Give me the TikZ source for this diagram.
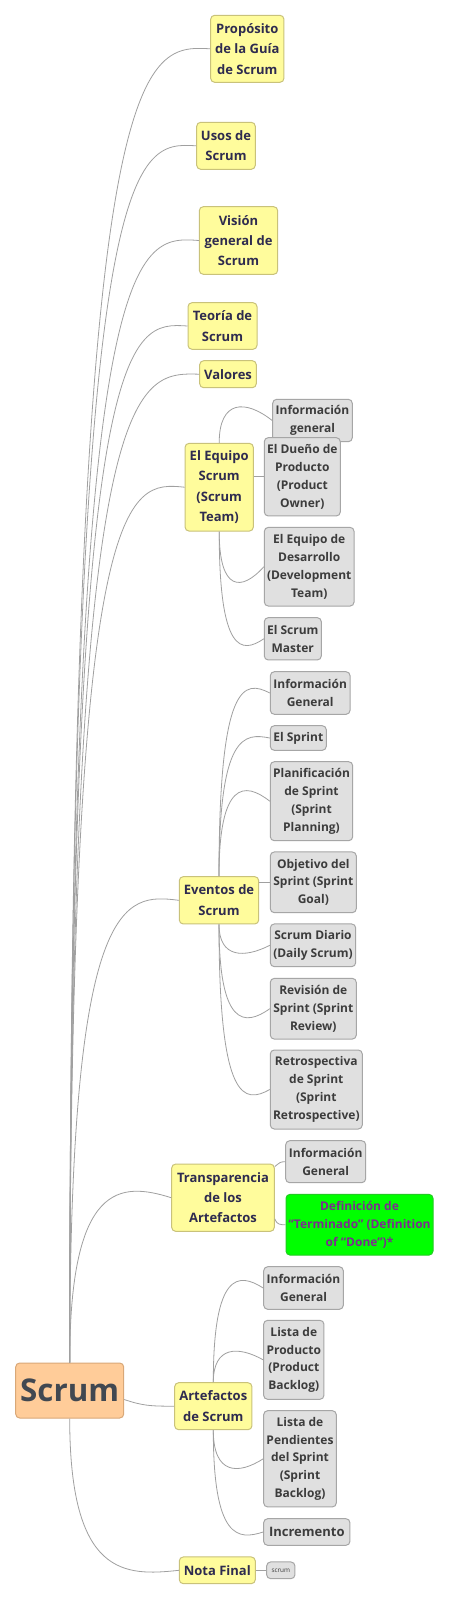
\documentclass[tikz,border=0pt]{standalone}
\usepackage{fontspec}
\setmainfont{Open Sans}
\usetikzlibrary{calc}
\definecolor{yfill}{HTML}{FFFC9C}
\definecolor{ydraw}{HTML}{C9C27A}
\definecolor{ytext}{HTML}{2E2B4F}
\definecolor{gfill}{HTML}{E0E0E0}
\definecolor{gdraw}{HTML}{A6A6A6}
\definecolor{gtext}{HTML}{3C3C3C}
\definecolor{rfill}{HTML}{FFCC99}
\definecolor{rdraw}{HTML}{D9A878}
\definecolor{rtext}{HTML}{414851}
\definecolor{linec}{HTML}{A0A0A0}
\definecolor{greenfill}{HTML}{00FF00}
\definecolor{greendraw}{HTML}{22CC22}
\definecolor{purp}{HTML}{7B2D8E}
\begin{document}
\begin{tikzpicture}[x=0.75pt,y=-0.75pt,
  every node/.style={inner sep=0pt, align=center, rounded corners=3pt, line width=0.75pt},
  sz/.style 2 args={minimum width={#1*0.75pt}, minimum height={#2*0.75pt}},
  topic/.style={draw=ydraw, fill=yfill, text=ytext, font=\fontsize{9.75pt}{15.3pt}\selectfont\bfseries},
  sub/.style={draw=gdraw, fill=gfill, text=gtext, font=\fontsize{9pt}{13.4pt}\selectfont\bfseries},
  donebox/.style={draw=greendraw, fill=greenfill, text=purp, font=\fontsize{9pt}{13.4pt}\selectfont\bfseries},
  rootbox/.style={draw=rdraw, fill=rfill, text=rtext, font=\fontsize{23.5pt}{28pt}\selectfont\bfseries},
  tagbox/.style={draw=gdraw, fill=gfill, text=gtext, font=\fontsize{4.8pt}{6pt}\selectfont},
  conn/.style={draw=linec, line width=0.6pt},
  cu/.style={to path={.. controls ($(\tikztostart |- \tikztotarget)+(0,-#1)$) and ($(\tikztostart |- \tikztotarget)!0.5!(\tikztotarget)+(0,-#1)$) .. (\tikztotarget)}},
  cd/.style={to path={.. controls ($(\tikztostart |- \tikztotarget)+(0,#1)$) and ($(\tikztostart |- \tikztotarget)!0.5!(\tikztotarget)+(0,#1)$) .. (\tikztotarget)}}
]
\fill[white] (0,0) rectangle (449,1600);
\useasboundingbox (0,0) rectangle (449,1600);

% root
\node[rootbox, sz={108}{55}] (root) at (69.7,1390.5) {Scrum};

% main topics
\node[topic, sz={73.3}{67}] (prop) at (247.3,48.8) {Propósito\\de la Guía\\de Scrum};
\node[topic, sz={58.6}{47}] (usos) at (226,145.8) {Usos de\\Scrum};
\node[topic, sz={78.4}{67.6}] (vision) at (238.5,240.5) {Visión\\general de\\Scrum};
\node[topic, sz={69}{46.6}] (teoria) at (222.5,326) {Teoría de\\Scrum};
\node[topic, sz={56.6}{27}] (valores) at (228,374.2) {Valores};
\node[topic, sz={68.3}{87.7}] (equipo) at (219.2,487.2) {El Equipo\\Scrum\\(Scrum\\Team)};
\node[topic, sz={79.4}{47.3}] (eventos) at (219,900.3) {Eventos de\\Scrum};
\node[topic, sz={102.6}{67.3}] (transp) at (223,1197.7) {Transparencia\\de los\\Artefactos};
\node[topic, sz={77.3}{47}] (artef) at (213.3,1406.2) {Artefactos\\de Scrum};
\node[topic, sz={76}{26.7}] (nota) at (217.3,1570.3) {Nota Final};

% equipo children
\node[sub, sz={79.6}{42.4}] (infog1) at (312.5,420.5) {Información\\general};
\node[sub, sz={76}{78.3}] (dueno) at (302.3,476.8) {El Dueño de\\Producto\\(Product\\Owner)};
\node[sub, sz={89.7}{78.7}] (desarr) at (309.2,566.7) {El Equipo de\\Desarrollo\\(Development\\Team)};
\node[sub, sz={57}{42.3}] (master) at (292.8,638.8) {El Scrum\\Master};

% eventos children
\node[sub, sz={79.7}{42.6}] (infog2) at (310.2,693) {Información\\General};
\node[sub, sz={56}{24.6}] (sprint) at (298.3,738) {El Sprint};
\node[sub, sz={82.4}{79}] (planif) at (311.5,801.2) {Planificación\\de Sprint\\(Sprint\\Planning)};
\node[sub, sz={86}{60.7}] (objet) at (313.3,882.3) {Objetivo del\\Sprint (Sprint\\Goal)};
\node[sub, sz={85.4}{42.7}] (diario) at (313,945.3) {Scrum Diario\\(Daily Scrum)};
\node[sub, sz={86}{60.7}] (revis) at (313.3,1008.7) {Revisión de\\Sprint (Sprint\\Review)};
\node[sub, sz={92}{79}] (retro) at (316.3,1089.5) {Retrospectiva\\de Sprint\\(Sprint\\Retrospective)};

% transparencia children
\node[sub, sz={80}{42}] (infog3) at (325.7,1161.7) {Información\\General};
\node[donebox, sz={147}{60.7}] (defin) at (359.5,1224.7) {Definición de\\“Terminado” (Definition\\of “Done”)*};

% artefactos children
\node[sub, sz={79.6}{42.6}] (infog4) at (303.5,1288) {Información\\General};
\node[sub, sz={60.3}{79}] (lprod) at (293.8,1359.8) {Lista de\\Producto\\(Product\\Backlog)};
\node[sub, sz={72.6}{96.3}] (lpend) at (300,1458.8) {Lista de\\Pendientes\\del Sprint\\(Sprint\\Backlog)};
\node[sub, sz={86.3}{26.6}, font=\fontsize{9.75pt}{13.4pt}\selectfont\bfseries] (incr) at (306.8,1532) {Incremento};

% nota child
\node[tagbox, sz={28.3}{16.7}] (scrumtag) at (280.8,1570.3) {scrum};

% connectors from root
\draw[conn] (root.north) to[cu=4] (prop.west);
\draw[conn] (root.north) to[cu=4] (usos.west);
\draw[conn] (root.north) to[cu=5] (vision.west);
\draw[conn] (root.north) to[cu=4] (teoria.west);
\draw[conn] (root.north) to[cu=2] (valores.west);
\draw[conn] (root.north) to[cu=6] (equipo.west);
\draw[conn] (root.north) to[cu=7] (eventos.west);
\draw[conn] (root.north) to[cu=16] (transp.west);
\draw[conn] ($(root.east)+(0,9)$) .. controls +(18,6) and +(-25,0) .. (artef.west);
\draw[conn] (root.south) to[cd=6] (nota.west);

% equipo
\draw[conn] (equipo.north) to[cu=21] (infog1.west);
\draw[conn] (dueno.west -| equipo.east) -- (dueno.west);
\draw[conn] (equipo.south) to[cd=25] (desarr.west);
\draw[conn] (equipo.south) to[cd=15] (master.west);

% eventos
\draw[conn] (eventos.north) to[cu=13] (infog2.west);
\draw[conn] (eventos.north) to[cu=5] (sprint.west);
\draw[conn] (eventos.north) to[cu=20] (planif.west);
\draw[conn] (objet.west -| eventos.east) -- (objet.west);
\draw[conn] (eventos.south) to[cd=13] (diario.west);
\draw[conn] (eventos.south) to[cd=18] (revis.west);
\draw[conn] (eventos.south) to[cd=14] (retro.west);

% transparencia
\draw[conn] ($(transp.north east)+(0,3)$) .. controls +(5,-4) and +(-5,0) .. (infog3.west);
\draw[conn] ($(transp.south east)+(0,-13)$) .. controls +(2,6) and +(-5,0) .. (defin.west);

% artefactos
\draw[conn] (artef.north) to[cu=16] (infog4.west);
\draw[conn] (artef.north) to[cu=14] (lprod.west);
\draw[conn] (artef.south) to[cd=16] (lpend.west);
\draw[conn] (artef.south) to[cd=8] (incr.west);

% nota
\draw[conn] (nota.east) -- (scrumtag.west);
\end{tikzpicture}
\end{document}
